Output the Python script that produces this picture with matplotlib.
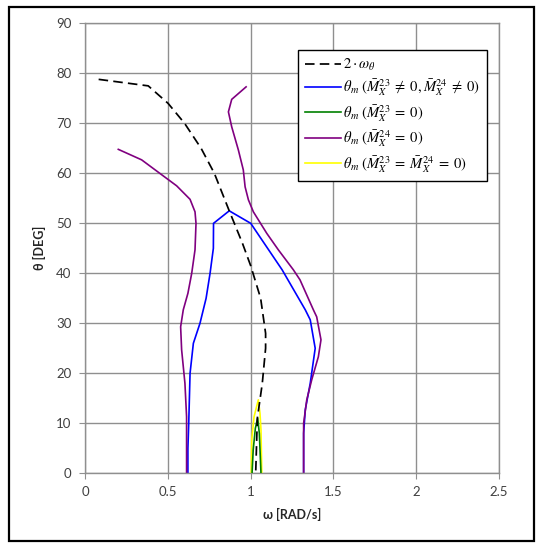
import matplotlib
matplotlib.use("Agg")
import matplotlib.pyplot as plt
from matplotlib.patches import Rectangle

plt.rcParams['mathtext.fontset'] = 'stix'
plt.rcParams['font.family'] = ['Lato', 'DejaVu Sans']

# 2*omega_theta (dashed)
omega_dash = [0.08, 0.38, 0.50, 0.60, 0.70, 0.78, 0.87, 0.95, 1.00, 1.06, 1.09, 1.09, 1.07, 1.04, 1.03]
theta_dash = [78.8, 77.5, 74, 70, 65, 60, 52.5, 46, 41.5, 35, 28, 25, 18, 11, 0]

# theta_m, both moments non-zero
omega_blue = [0.62, 0.62, 0.625, 0.633, 0.653, 0.693, 0.73, 0.754, 0.774, 0.775, 0.87,
              1.0, 1.19, 1.33, 1.36, 1.39, 1.36, 1.33, 1.32, 1.32]
theta_blue = [0, 5, 10, 20, 26, 30, 35, 40, 45, 50, 52.5,
              50, 40.7, 32.7, 30.7, 25, 18, 12.7, 8, 0]

# theta_m, M23 = 0
omega_green = [1.008, 1.015, 1.028, 1.042, 1.052, 1.058, 1.062]
theta_green = [0, 4.7, 9, 11, 8, 3.3, 0]

# theta_m, M24 = 0 (two branches)
omega_purple_l = [0.199, 0.34, 0.45, 0.552, 0.633, 0.663, 0.669, 0.663, 0.643, 0.62,
                  0.592, 0.576, 0.582, 0.602, 0.612, 0.612]
theta_purple_l = [64.8, 62.7, 60, 57.5, 54.8, 52.3, 50, 44.7, 40, 36,
                  32.7, 29.3, 24.7, 18, 11.3, 0]
omega_purple_r = [0.972, 0.885, 0.865, 0.885, 0.925, 0.955, 0.966, 0.986, 1.016, 1.097,
                  1.167, 1.258, 1.298, 1.379, 1.399, 1.425, 1.409, 1.369, 1.339, 1.32, 1.32]
theta_purple_r = [77.3, 74.8, 72.3, 69.3, 64.7, 60.7, 57.3, 54.7, 52.3, 48,
                  44.7, 40.7, 38.7, 32.7, 31.3, 26.7, 23.3, 18.7, 14.7, 10, 0]

# theta_m, M23 = M24 = 0
omega_yellow = [1.003, 1.006, 1.02, 1.046, 1.056, 1.062, 1.067]
theta_yellow = [0, 6.7, 11.3, 14.7, 12, 8.7, 0]

labels = [r'$2\cdot\omega_\theta$',
          r'$\theta_m\ (\bar{M}_X^{23}\;\neq\; 0,\bar{M}_X^{24}\;\neq\; 0)$',
          r'$\theta_m\ (\bar{M}_X^{23}\;=\;0)$',
          r'$\theta_m\ (\bar{M}_X^{24}\;=\;0)$',
          r'$\theta_m\ (\bar{M}_X^{23}\;=\;\bar{M}_X^{24}\;=\;0)$']

fig = plt.figure(figsize=(5.43, 5.5), dpi=100)
ax = fig.add_axes([0.1573, 0.1395, 0.7611, 0.818])

lw = 1.2
ax.plot(omega_dash, theta_dash, color='black', linestyle=(0, (5.5, 3)), lw=1.25, label=labels[0], zorder=5)
ax.plot(omega_blue, theta_blue, color='#0000ff', lw=lw, label=labels[1])
ax.plot(omega_green, theta_green, color='#008000', lw=lw, label=labels[2], zorder=4)
ax.plot(omega_purple_l, theta_purple_l, color='#800080', lw=lw, label=labels[3])
ax.plot(omega_purple_r, theta_purple_r, color='#800080', lw=lw)
ax.plot(omega_yellow, theta_yellow, color='#ffff00', lw=lw, label=labels[4], zorder=3)

ax.set_xlim(0, 2.5)
ax.set_ylim(0, 90)
ax.set_xticks([0, 0.5, 1, 1.5, 2, 2.5])
ax.set_xticklabels(['0', '0.5', '1', '1.5', '2', '2.5'])
ax.set_yticks(range(0, 91, 10))

grid_col = '#8f8f8f'
ax.grid(True, color=grid_col, lw=1.0)
ax.set_axisbelow(True)
for s in ax.spines.values():
    s.set_color(grid_col)
    s.set_linewidth(1.0)
ax.tick_params(direction='out', length=4, color=grid_col, labelcolor='#404040', labelsize=9.5)
ax.tick_params(axis='x', pad=5)
ax.tick_params(axis='y', pad=6)

ax.set_xlabel('ω [RAD/s]', fontsize=9, fontweight='bold', color='#262626', labelpad=7)
ax.set_ylabel('θ [DEG]', fontsize=9, fontweight='bold', color='#262626', labelpad=7)

leg = ax.legend(loc='upper left', bbox_to_anchor=(0.515, 0.9407), borderaxespad=0, fontsize=10.5,
                frameon=True, fancybox=False, edgecolor='black', framealpha=1,
                handlelength=2.5, handletextpad=0.15, labelspacing=0.32, borderpad=0.45)
leg.get_frame().set_linewidth(1.0)

fig.patches.append(Rectangle((0.0166, 0.0164), 0.967, 0.971, transform=fig.transFigure,
                             fill=False, edgecolor='black', lw=1.6))

fig.savefig('out.png', dpi=100)
